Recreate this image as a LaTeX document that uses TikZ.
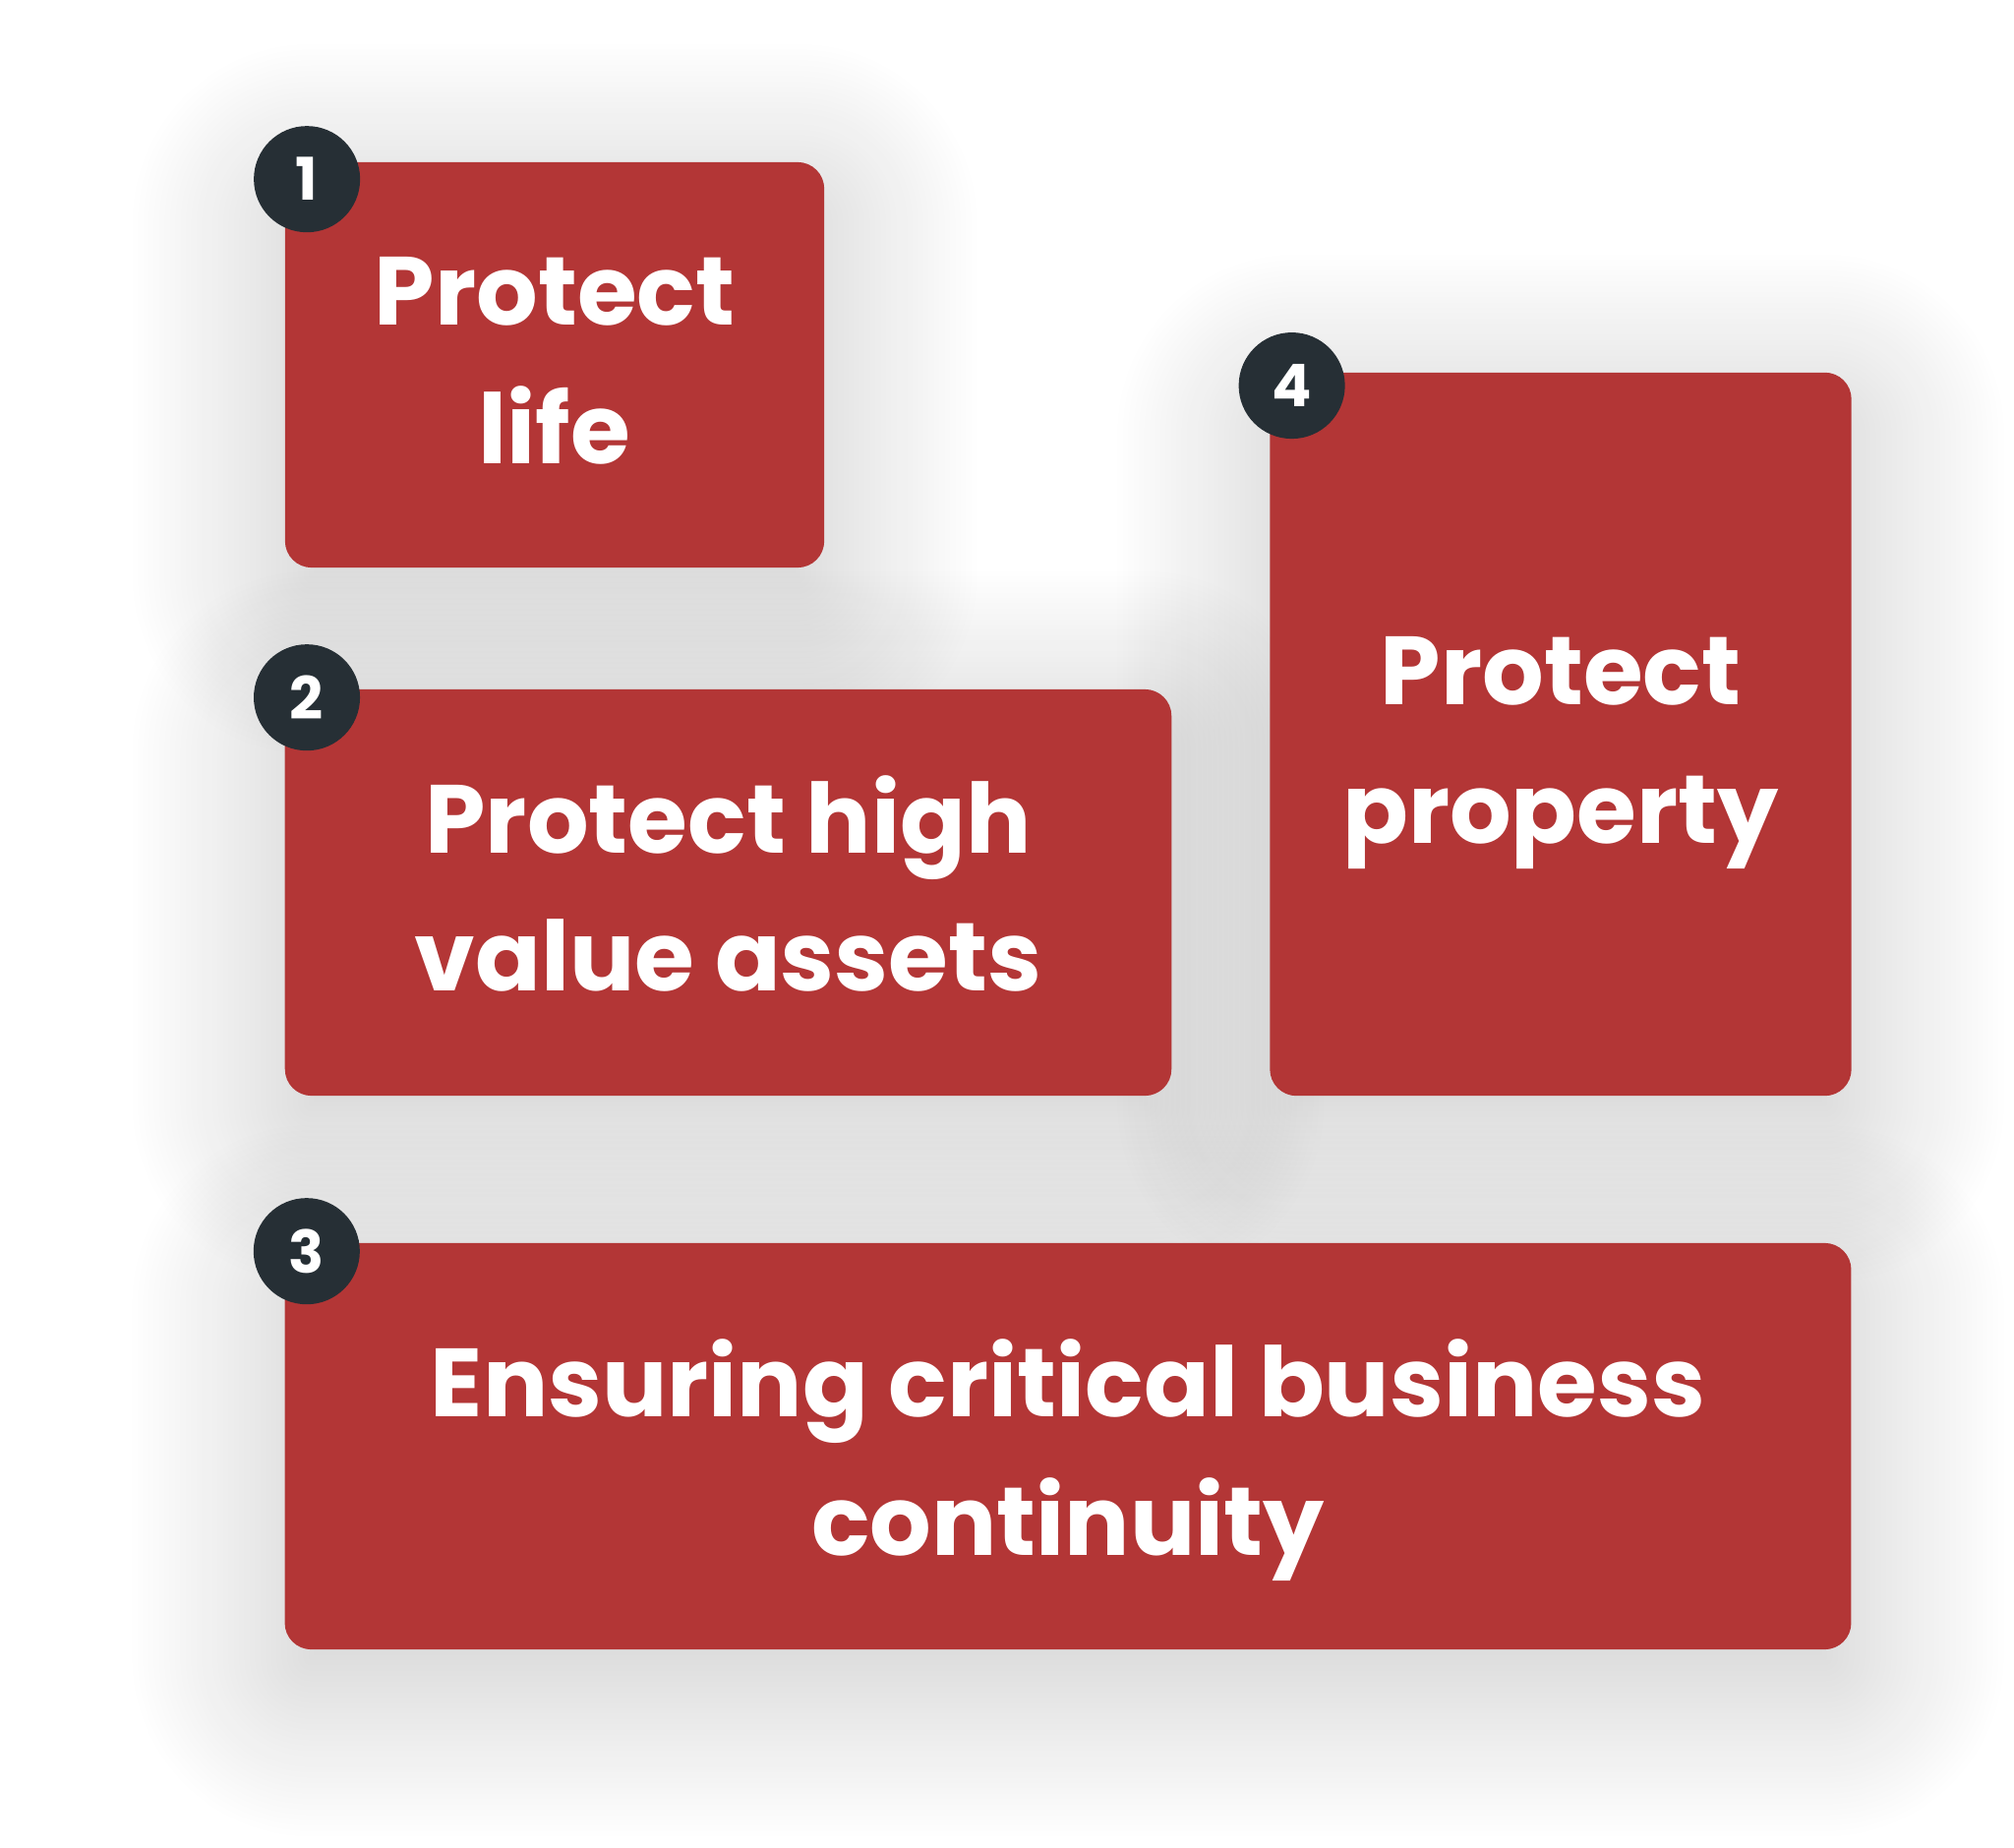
\documentclass[tikz,border=0pt]{standalone}
\usepackage{fontspec}
\setmainfont{Poppins}
\usetikzlibrary{shadows.blur,backgrounds}
\definecolor{boxred}{RGB}{179,54,54}
\definecolor{numdark}{RGB}{38,47,53}
\begin{document}
\begin{tikzpicture}[x=0.01cm, y=-0.01cm, line join=round, line cap=round,
  goal/.style={fill=boxred, rounded corners=0.27cm, inner sep=0pt},
  goaltext/.style={align=center, inner sep=0pt, text=white,
    font=\fontsize{28}{40}\selectfont\bfseries},
  num/.style={circle, fill=numdark, inner sep=0pt, minimum size=1.08cm,
    text=white, font=\fontsize{17}{17}\selectfont\bfseries},
  soft/.style={blur shadow={shadow xshift=0cm, shadow yshift=-0.35cm,
    shadow blur radius=1.6cm, shadow blur steps=30, shadow opacity=22}}]
\useasboundingbox (0,0) rectangle (2048,1879);
\coordinate (C1) at (564,371);
\coordinate (C2) at (740.5,907.5);
\coordinate (C3) at (1086,1470.5);
\coordinate (C4) at (1587,746.5);
\node[goal, minimum width=5.48cm, minimum height=4.12cm] (life) at (C1) {};
\node[goal, minimum width=9.01cm, minimum height=4.13cm] (assets) at (C2) {};
\node[goal, minimum width=15.92cm, minimum height=4.13cm] (continuity) at (C3) {};
\node[goal, minimum width=5.91cm, minimum height=7.35cm] (property) at (C4) {};
\begin{pgfonlayer}{background}
\foreach \b in {life,assets,continuity,property}
  \path[soft, rounded corners=0.27cm] (\b.south west) rectangle (\b.north east);
\end{pgfonlayer}
% texts
\node[goaltext] (t1) at ([shift={(0,-4)}]life.center) {Protect\\life};
\node[goaltext] (t2) at ([shift={(0,-9)}]assets.center) {Protect high\\value assets};
\node[goaltext] (t3) at ([shift={(0,14)}]continuity.center) {Ensuring critical business\\continuity};
\node[goaltext] (t4) at ([shift={(0,19)}]property.center) {Protect\\property};
% numbers
\node[num] (n1) at ([shift={(23,18)}]life.north west) {1};
\node[num] (n2) at ([shift={(23,9)}]assets.north west) {2};
\node[num] (n3) at ([shift={(23,9)}]continuity.north west) {3};
\node[num] (n4) at ([shift={(23,14)}]property.north west) {4};
\end{tikzpicture}
\end{document}
